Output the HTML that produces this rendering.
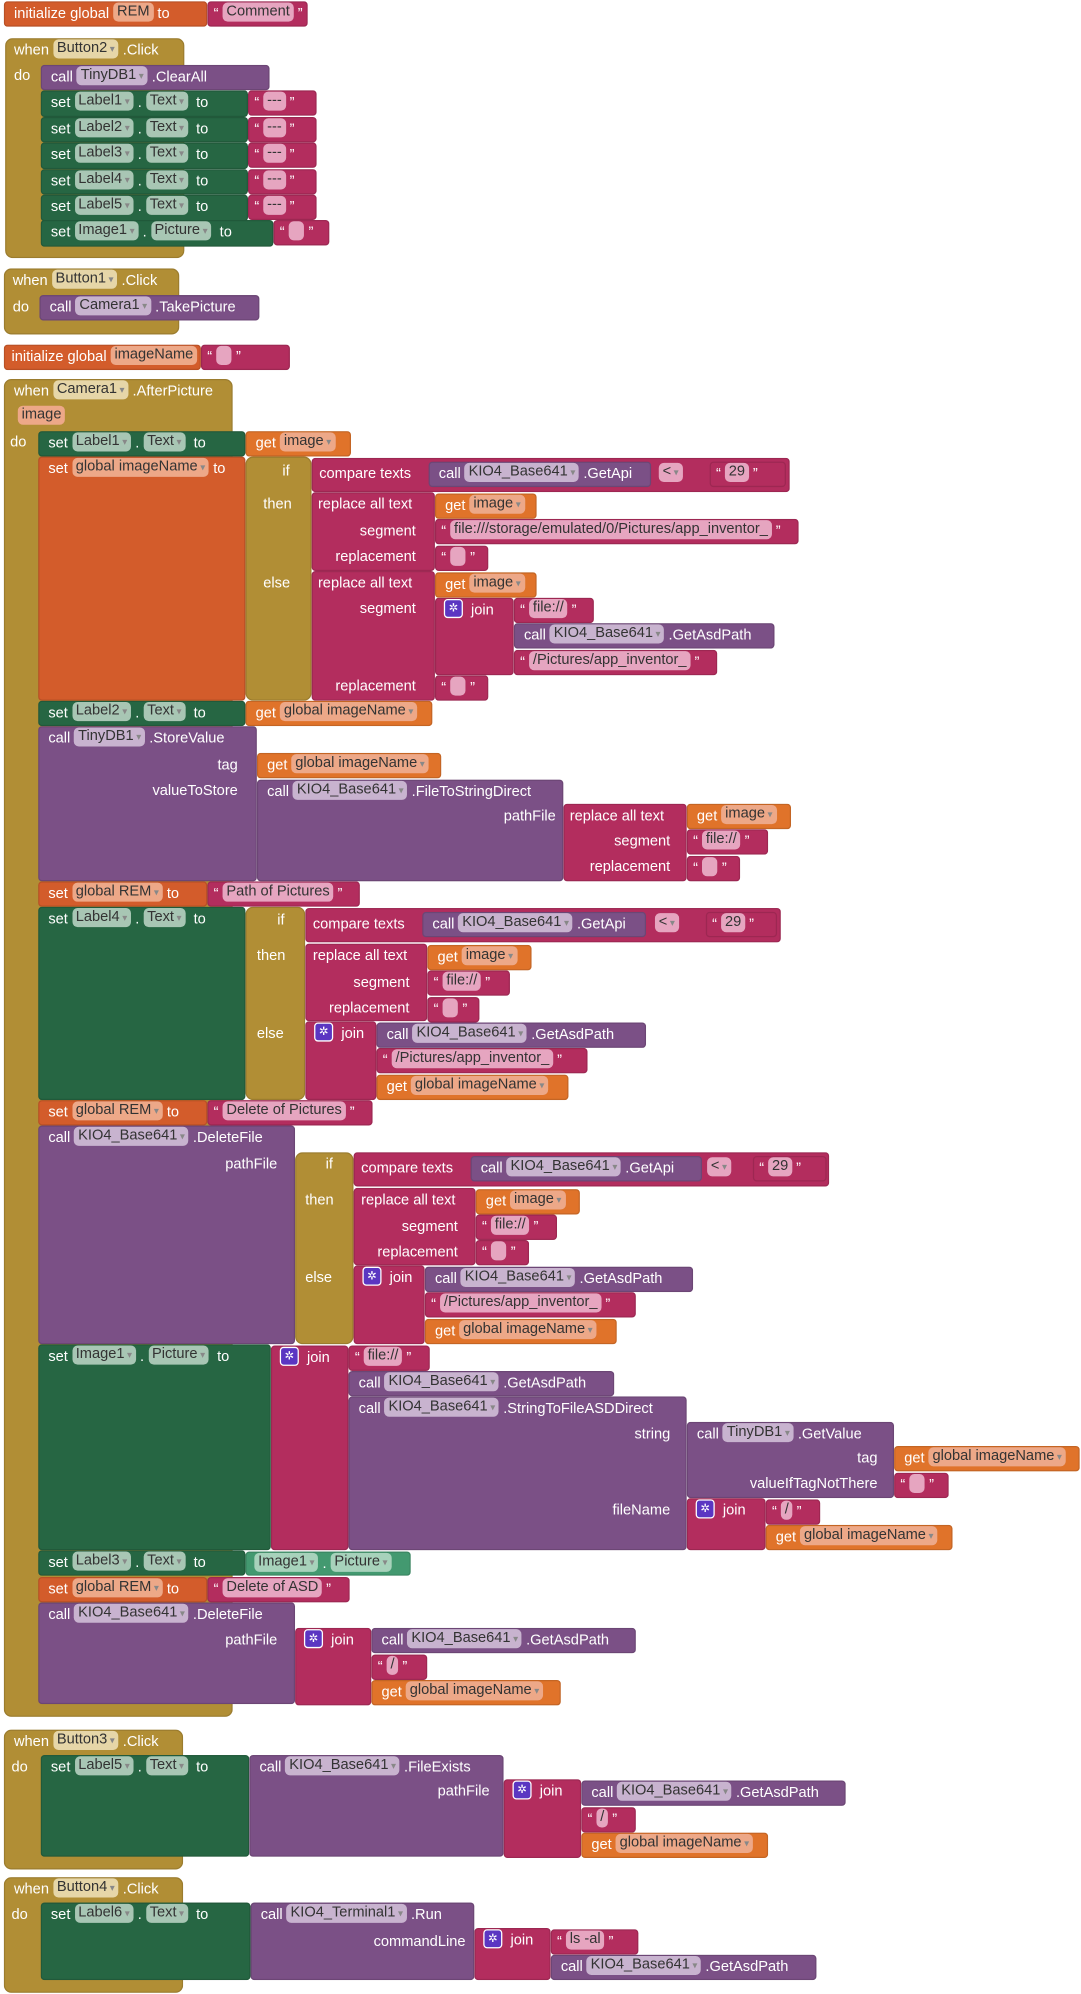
<!DOCTYPE html>
<html><head><meta charset="utf-8">
<style>
html,body{margin:0;padding:0;background:#fff;width:1081px;height:1994px;overflow:hidden}
#s{position:absolute;left:0;top:0;width:850px;height:1568px;transform:scale(1.27176);transform-origin:0 0;font-family:"Liberation Sans",Arial,sans-serif;font-size:11.5px;color:#fff}
.b{position:absolute;border-radius:3px;box-sizing:border-box;border:1px solid rgba(0,0,0,0.12)}
.ev{background:#b18e35;border-radius:6px}
.pu{background:#7b5086}
.gr{background:#266643}
.lg{background:#439970}
.ma{background:#b32d5e}
.or{background:#d35c2b}
.go{background:#e0732a}
.t{position:absolute;height:20px;line-height:20px;white-space:nowrap}
.r{transform:translateX(-100%)}
.p{display:inline-block;line-height:15px;padding:0 3px;border-radius:4px;color:#333;vertical-align:middle;margin-top:-2px}
.p i{font-style:normal;font-size:8px;color:#888;margin-left:2px}
.pg{background:#a8c6b4}.pp{background:#c8b3cf}.pm{background:#e6a5c0}.po{background:#eda888}.py{background:#e6d6a8}.pl{background:#a7d2bb}
.gear{display:inline-block;width:13px;height:13px;background:#5b36c2;border-radius:3px;border:1px solid #fff;vertical-align:middle;margin-top:-2px;font-size:9px;line-height:13px;text-align:center}
</style></head><body>
<div id="s"></div>
<script>
const S=document.getElementById('s');
function B(x,y,x2,y2,c,n){
 const e=document.createElement('div');
 e.className='b '+c;
 e.style.cssText='left:'+x+'px;top:'+y+'px;width:'+(x2-x)+'px;height:'+(y2-y)+'px';
 
 
 S.appendChild(e);
}
function T(x,y,h,n,right){
 const e=document.createElement('div');
 e.className='t'+(right?' r':'');
 e.style.left=x+'px';e.style.top=y+'px';
 e.innerHTML=h;
 
 
 S.appendChild(e);
}
function P(t,c,dd){return '<span class="p '+c+'">'+t+(dd===false?'':'<i>▾</i>')+'</span>';}
function STR(x,y,x2,t,n){B(x,y,x2,y+20,'ma',n);T(x+5,y,'“ '+P(t||'&nbsp;&nbsp;','pm',false)+' ”',n+'-text');}
function GET(x,y,x2,v,n){B(x,y,x2,y+20,'go',n);T(x+8,y,'get '+P(v,'po'),n+'-text');}
function CALL(x,y,x2,y2,comp,m,n){B(x,y,x2,y2,'pu',n);T(x+8,y,'call '+P(comp,'pp')+' '+m,n+'-text');}
function SETC(x,y,x2,y2,comp,prop,n){B(x,y,x2,y2,'gr',n);T(x+8,y,'set '+P(comp,'pg')+' . '+P(prop,'pg')+' &nbsp;to',n+'-text');}
function SETG(x,y,x2,y2,v,n){B(x,y,x2,y2,'or',n);T(x+8,y,'set '+P('global '+v,'po')+' to',n+'-text');}
function JOIN(x,y,x2,y2,n){B(x,y,x2,y2,'ma',n);T(x+7,y,'<span class="gear">✲</span> &nbsp;join',n+'-text');}
function COMPARE(x,y,x2,cx,cx2,lx,sx,sx2,n){
 B(x,y,x2,y+27,'ma',n);T(x+6,y+3,'compare texts',n+'-text');
 CALL(cx,y+3,cx2,y+23,'KIO4_Base641','.GetApi',n+'-getapi');
 T(lx,y+3,P('&lt;','pm'),n+'-op');
 B(sx,y+3,sx2,y+23,'ma',n+'-num');T(sx+5,y+3,'“ '+P('29','pm',false)+' ”',n+'-num-text');
}

B(3,1,163,21,'or','init-rem');T(11,1,'initialize global '+P('REM','po',false)+' to','init-rem-text');
STR(163,1,242,'Comment','rem-comment');

B(4,30,145,203,'ev','button2-click');T(11,30,'when '+P('Button2','py')+' .Click','button2-head');T(11,50,'do','button2-do');
CALL(32,51,212,71,'TinyDB1','.ClearAll','tinydb-clearall');
const labs=['Label1','Label2','Label3','Label4','Label5'];
labs.forEach((l,i)=>{const y=71+i*20.5;SETC(32,y,195,y+20.5,l,'Text','set-'+l.toLowerCase());STR(195,y,249,'---','str-'+i);});
SETC(32,173,215,194,'Image1','Picture','set-image1-picture');STR(215,173,259,'','str-blank');

B(3,211,141,263,'ev','button1-click');T(10,211,'when '+P('Button1','py')+' .Click','button1-head');T(10,232,'do','button1-do');
CALL(31,232,204,252,'Camera1','.TakePicture','camera-takepicture');

B(3,271,158,291,'or','init-imagename');T(9,271,'initialize global '+P('imageName','po',false)+' to','init-imagename-text');
STR(158,271,228,'','imagename-blank');

B(3,298,183,1350,'ev','camera-afterpicture');T(11,298,'when '+P('Camera1','py')+' .AfterPicture','after-head');
T(14,318,P('image','po',false),'param-image');T(8,338,'do','after-do');
SETC(30,339,193,359,'Label1','Text','set-label1');GET(193,339,276,'image','get-image-1');
SETG(30,359,193,551,'imageName','set-imagename');
B(193,359,245,551,'ev','if-1');T(222,361,'if','if-1-if');T(207,387,'then','if-1-then');T(207,449,'else','if-1-else');
COMPARE(245,360,621,337,512,518,558,618,'compare-1');
B(245,387,342,449,'ma','replace-1');T(250,387,'replace all text','r1-a');T(327,408,'segment','r1-b',1);T(327,428,'replacement','r1-c',1);
GET(342,388,422,'image','get-image-2');STR(342,408,628,'file:///storage/emulated/0/Pictures/app_inventor_','seg-1');STR(342,429,384,'','rep-1');
B(245,449,342,551,'ma','replace-2');T(250,449,'replace all text','r2-a');T(327,469,'segment','r2-b',1);T(327,530,'replacement','r2-c',1);
GET(342,450,422,'image','get-image-3');JOIN(342,470,404,531,'join-1');STR(404,470,467,'file://','join1-s1');
CALL(404,490,609,510,'KIO4_Base641','.GetAsdPath','getasdpath-1');STR(404,511,564,'/Pictures/app_inventor_','join1-s2');STR(342,531,384,'','rep-2');
SETC(30,551,193,571,'Label2','Text','set-label2');GET(193,551,340,'global imageName','get-imagename-1');
B(30,571,202,693,'pu','tinydb-storevalue');T(38,571,'call '+P('TinyDB1','pp')+' .StoreValue','storevalue-text');T(187,592,'tag','sv-tag',1);T(187,612,'valueToStore','sv-val',1);
GET(202,592,347,'global imageName','get-imagename-2');
B(202,613,443,693,'pu','filetostring');T(210,613,'call '+P('KIO4_Base641','pp')+' .FileToStringDirect','fts-text');T(437,632,'pathFile','fts-path',1);
B(443,632,540,693,'ma','replace-3');T(448,632,'replace all text','r3-a');T(527,652,'segment','r3-b',1);T(527,672,'replacement','r3-c',1);
GET(540,632,622,'image','get-image-4');STR(540,652,604,'file://','seg-3');STR(540,673,582,'','rep-3');
SETG(30,693,163,713,'REM','set-rem-1');STR(163,693,283,'Path of Pictures','rem-1');
SETC(30,713,193,865,'Label4','Text','set-label4');
B(193,713,240,865,'ev','if-2');T(218,714,'if','if-2-if');T(202,742,'then','if-2-then');T(202,803,'else','if-2-else');
COMPARE(240,714,614,332,508,515,555,611,'compare-2');
B(240,742,336,803,'ma','replace-4');T(246,742,'replace all text','r4-a');T(322,763,'segment','r4-b',1);T(322,783,'replacement','r4-c',1);
GET(336,743,418,'image','get-image-5');STR(336,763,401,'file://','seg-4');STR(336,784,377,'','rep-4');
JOIN(240,803,296,865,'join-2');CALL(296,804,508,824,'KIO4_Base641','.GetAsdPath','getasdpath-2');STR(296,824,462,'/Pictures/app_inventor_','join2-s');GET(296,845,447,'global imageName','get-imagename-3');
SETG(30,865,163,885,'REM','set-rem-2');STR(163,865,293,'Delete of Pictures','rem-2');
B(30,885,232,1057,'pu','deletefile-1');T(38,885,'call '+P('KIO4_Base641','pp')+' .DeleteFile','df1-text');T(218,906,'pathFile','df1-path',1);
B(232,906,278,1057,'ev','if-3');T(256,906,'if','if-3-if');T(240,934,'then','if-3-then');T(240,995,'else','if-3-else');
COMPARE(278,906,652,370,552,556,592,650,'compare-3');
B(278,934,374,995,'ma','replace-5');T(284,934,'replace all text','r5-a');T(360,955,'segment','r5-b',1);T(360,975,'replacement','r5-c',1);
GET(374,935,456,'image','get-image-6');STR(374,955,438,'file://','seg-5');STR(374,975,416,'','rep-5');
JOIN(278,995,334,1057,'join-3');CALL(334,996,545,1016,'KIO4_Base641','.GetAsdPath','getasdpath-3');STR(334,1016,500,'/Pictures/app_inventor_','join3-s');GET(334,1037,485,'global imageName','get-imagename-4');
SETC(30,1057,213,1219,'Image1','Picture','set-image1-picture-2');
JOIN(213,1058,274,1219,'join-4');STR(274,1058,338,'file://','join4-s');CALL(274,1078,483,1098,'KIO4_Base641','.GetAsdPath','getasdpath-4');
B(274,1098,540,1219,'pu','stringtofile');T(282,1098,'call '+P('KIO4_Base641','pp')+' .StringToFileASDDirect','stf-text');T(527,1118,'string','stf-string',1);T(527,1178,'fileName','stf-file',1);
B(540,1118,703,1178,'pu','tinydb-getvalue');T(548,1118,'call '+P('TinyDB1','pp')+' .GetValue','gv-text');T(690,1137,'tag','gv-tag',1);T(690,1157,'valueIfTagNotThere','gv-val',1);
GET(703,1137,849,'global imageName','get-imagename-5');STR(703,1158,746,'','gv-blank');
JOIN(540,1178,602,1219,'join-5');STR(602,1179,645,'/','join5-s');GET(602,1199,749,'global imageName','get-imagename-6');
SETC(30,1219,193,1239,'Label3','Text','set-label3');B(193,1220,323,1239,'lg','image1-picture-getter');T(200,1220,P('Image1','pl')+' . '+P('Picture','pl'),'getter-text');
SETG(30,1240,163,1260,'REM','set-rem-3');STR(163,1240,275,'Delete of ASD','rem-3');
B(30,1260,232,1340,'pu','deletefile-2');T(38,1260,'call '+P('KIO4_Base641','pp')+' .DeleteFile','df2-text');T(218,1280,'pathFile','df2-path',1);
JOIN(232,1280,292,1341,'join-6');CALL(292,1280,500,1300,'KIO4_Base641','.GetAsdPath','getasdpath-5');STR(292,1301,336,'/','join6-s');GET(292,1321,441,'global imageName','get-imagename-7');

B(3,1360,144,1470,'ev','button3-click');T(11,1360,'when '+P('Button3','py')+' .Click','button3-head');T(9,1380,'do','button3-do');
SETC(32,1380,196,1460,'Label5','Text','set-label5');
B(196,1380,396,1460,'pu','fileexists');T(204,1380,'call '+P('KIO4_Base641','pp')+' .FileExists','fe-text');T(385,1399,'pathFile','fe-path',1);
JOIN(396,1399,457,1461,'join-7');CALL(457,1400,665,1420,'KIO4_Base641','.GetAsdPath','getasdpath-6');STR(457,1421,500,'/','join7-s');GET(457,1441,604,'global imageName','get-imagename-8');

B(3,1476,144,1567,'ev','button4-click');T(11,1476,'when '+P('Button4','py')+' .Click','button4-head');T(9,1496,'do','button4-do');
SETC(32,1496,197,1557,'Label6','Text','set-label6');
B(197,1496,373,1557,'pu','terminal-run');T(205,1496,'call '+P('KIO4_Terminal1','pp')+' .Run','run-text');T(366,1517,'commandLine','run-cmd',1);
JOIN(373,1516,433,1557,'join-8');STR(433,1517,502,'ls -al','join8-s');CALL(433,1537,642,1557,'KIO4_Base641','.GetAsdPath','getasdpath-7');
</script>
</body></html>
